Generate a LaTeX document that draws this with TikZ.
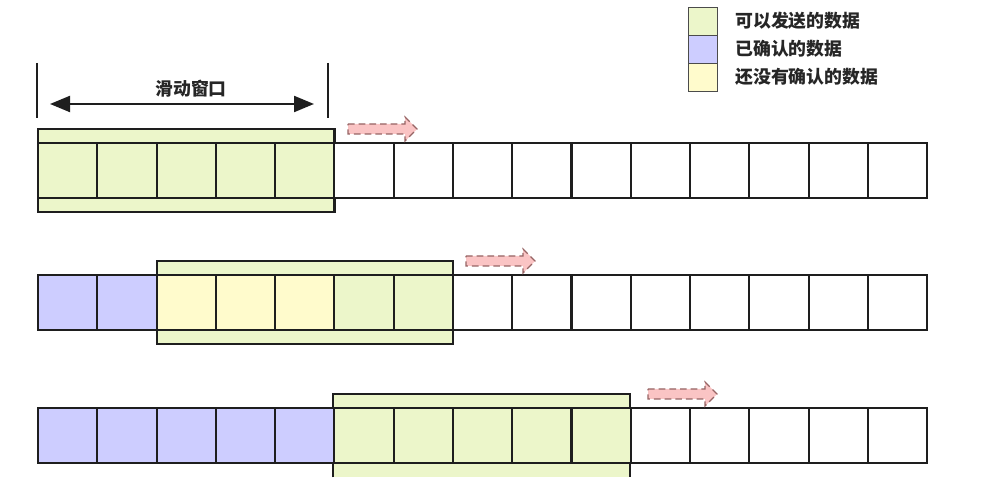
\documentclass[tikz,border=0pt]{standalone}
\usepackage{fontspec}
\newfontfamily\cjk{Noto Sans CJK SC}
\usetikzlibrary{arrows.meta,calc}
\definecolor{gr}{RGB}{236,246,202}
\definecolor{bl}{RGB}{205,205,255}
\definecolor{ye}{RGB}{255,251,204}
\definecolor{wh}{RGB}{255,255,255}
\definecolor{pk}{RGB}{250,196,196}
\definecolor{pkd}{RGB}{150,100,100}
\definecolor{ln}{RGB}{30,30,30}
\tikzset{
  cell/.style={draw=ln, line width=1.6pt, inner sep=0pt, minimum width=44.45pt, minimum height=41.25pt, anchor=west},
  winbox/.style={fill=gr, inner sep=0pt, minimum width=222.3pt, minimum height=62.25pt, anchor=west},
  winline/.style={draw=ln, line width=1.6pt},
  pinkarrow/.style={fill=pk, draw=pkd, line width=1pt, dash pattern=on 5pt off 3pt},
  legbox/.style={draw=ln!80, line width=0.8pt, inner sep=0pt, minimum width=21.75pt, minimum height=21pt, anchor=north west},
  legtext/.style={anchor=west, inner sep=0pt, font=\cjk\bfseries\fontsize{13.4}{15}\selectfont, text=black!85},
  dimline/.style={line width=1.3pt, draw=ln},
  dimarrow/.style={line width=1.6pt, draw=ln, {Triangle[length=15pt,width=12pt]}-{Triangle[length=15pt,width=12pt]}},
}
\begin{document}
\begin{tikzpicture}[x=0.75pt,y=-0.75pt]
\useasboundingbox (0,0) rectangle (985,484);
% legend
\node[legbox, fill=gr] (lg1) at (688,7) {};
\node[legbox, fill=bl] (lg2) at (688,35) {};
\node[legbox, fill=ye] (lg3) at (688,63) {};
\node[legtext] (lt1) at (735,21) {可以发送的数据};
\node[legtext] (lt2) at (735,49) {已确认的数据};
\node[legtext] (lt3) at (735,77) {还没有确认的数据};
% dimension
\coordinate (dl1) at (37,63);
\coordinate (dl2) at (37,118);
\coordinate (dr1) at (328,63);
\coordinate (dr2) at (328,118);
\coordinate (da1) at (50,104);
\coordinate (da2) at (314,104);
\draw[dimline] (dl1) -- (dl2);
\draw[dimline] (dr1) -- (dr2);
\draw[dimarrow] (da1) -- (da2);
\node[font=\cjk\bfseries\fontsize{13.4}{15}\selectfont, text=black!85] (lbl) at (191,89) {滑动窗口};
% windows
\node[winbox, draw=ln, line width=1.6pt] (w1) at (37,170.5) {};
\node[winbox, draw=ln, line width=1.6pt] (w2) at (155.5,302.5) {};
\node[winbox] (w3) at (333.3,435.5) {};
\draw[winline] (w3.south west) -- (w3.north west) -- (w3.north east) -- (w3.south east);
% row 1
\foreach \c/\col in {1/gr,2/gr,3/gr,4/gr,5/gr,6/wh,7/wh,8/wh,9/wh,10/wh,11/wh,12/wh,13/wh,14/wh,15/wh}
  \node[cell, fill=\col] (ra\c) at ({37+59.27*(\c-1)},170.5) {};
% row 2
\foreach \c/\col in {1/bl,2/bl,3/ye,4/ye,5/ye,6/gr,7/gr,8/wh,9/wh,10/wh,11/wh,12/wh,13/wh,14/wh,15/wh}
  \node[cell, fill=\col] (rb\c) at ({37+59.27*(\c-1)},302.5) {};
% row 3
\foreach \c/\col in {1/bl,2/bl,3/bl,4/bl,5/bl,6/gr,7/gr,8/gr,9/gr,10/gr,11/wh,12/wh,13/wh,14/wh,15/wh}
  \node[cell, fill=\col] (rc\c) at ({37+59.27*(\c-1)},435.5) {};
% pink arrows
\foreach \x/\y in {348/129, 466/261, 648/394}
  \draw[pinkarrow] (\x,\y-5) -- ++(57,0) -- ++(0,-7) -- ++(12,12) -- ++(-12,12) -- ++(0,-7) -- ++(-57,0) -- cycle;
\end{tikzpicture}
\end{document}
